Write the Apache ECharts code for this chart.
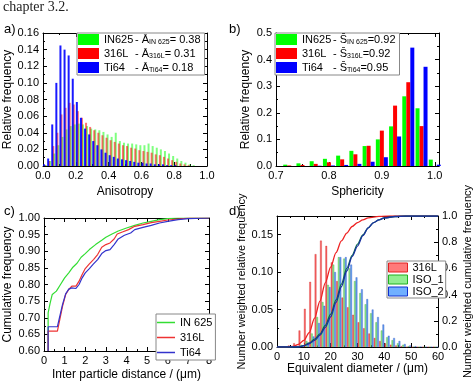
<!DOCTYPE html>
<html><head><meta charset="utf-8">
<script src="https://cdn.jsdelivr.net/npm/echarts@6/dist/echarts.min.js"></script>
<style>html,body{margin:0;padding:0;background:#fff}#c{width:474px;height:384px}</style>
</head><body><div id="c"></div><script>
// ---------- data: panel a (anisotropy) ----------
const aBins = [0.0125,0.0375,0.0625,0.0875,0.1125,0.1375,0.1625,0.1875,0.2125,0.2375,0.2625,0.2875,0.3125,0.3375,0.3625,0.3875,0.4125,0.4375,0.4625,0.4875,0.5125,0.5375,0.5625,0.5875,0.6125,0.6375,0.6625,0.6875,0.7125,0.7375,0.7625,0.7875,0.8125,0.8375,0.8625,0.8875,0.9125,0.9375,0.9625,0.9875];
const aIN625 = [0.001,0.006,0.015,0.025,0.035,0.044,0.048,0.050,0.051,0.050,0.048,0.045,0.044,0.043,0.041,0.038,0.035,0.040,0.030,0.028,0.027,0.027,0.026,0.025,0.025,0.027,0.024,0.022,0.020,0.018,0.015,0.012,0.009,0.006,0.004,0.002,0.001,0,0,0];
const a316L = [0.001,0.006,0.024,0.040,0.062,0.070,0.076,0.074,0.066,0.058,0.052,0.047,0.043,0.040,0.037,0.034,0.031,0.029,0.027,0.025,0.024,0.022,0.021,0.019,0.018,0.017,0.016,0.014,0.013,0.011,0.009,0.007,0.005,0.003,0.002,0.001,0,0,0,0];
const aTi64 = [0.002,0.009,0.050,0.100,0.145,0.140,0.133,0.105,0.077,0.058,0.045,0.038,0.030,0.025,0.020,0.016,0.013,0.011,0.009,0.008,0.007,0.006,0.005,0.004,0.004,0.003,0.003,0.002,0.002,0.002,0.001,0.001,0.001,0,0,0,0,0,0,0];
// ---------- data: panel b (sphericity) ----------
const bBins = [0.725,0.75,0.775,0.8,0.825,0.85,0.875,0.9,0.925,0.95,0.975,1.0];
const bIN625 = [0.005,0.010,0.018,0.027,0.039,0.057,0.075,0.100,0.149,0.262,0.217,0.024];
const b316L = [0.002,0.004,0.008,0.014,0.025,0.044,0.076,0.133,0.227,0.315,0.150,0];
const bTi64 = [0,0,0.001,0.002,0.004,0.008,0.016,0.033,0.111,0.445,0.373,0.005];
// ---------- data: panel c (inter particle distance, cumulative) ----------
const cIN625 = [[0.2,0.6],[0.2,0.715],[0.3,0.745],[0.4,0.77],[0.6,0.78],[0.8,0.80],[1.0,0.82],[1.2,0.835],[1.4,0.852],[1.6,0.864],[1.8,0.882],[2.0,0.893],[2.2,0.905],[2.5,0.92],[2.8,0.933],[3.0,0.942],[3.3,0.952],[3.6,0.961],[4.0,0.97],[4.4,0.978],[4.8,0.985],[5.2,0.99],[5.6,0.995],[6.0,0.998],[6.5,1.0],[8,1.0]];
const c316L = [[0.2,0.6],[0.2,0.66],[0.65,0.66],[0.75,0.69],[0.9,0.735],[1.05,0.77],[1.2,0.785],[1.35,0.795],[1.55,0.795],[1.7,0.81],[1.85,0.83],[2.0,0.848],[2.2,0.862],[2.4,0.875],[2.6,0.89],[2.8,0.912],[3.0,0.92],[3.2,0.925],[3.4,0.937],[3.55,0.952],[3.8,0.958],[4.1,0.965],[4.4,0.975],[4.8,0.98],[5.2,0.986],[5.6,0.99],[6.0,0.994],[6.5,0.997],[7.0,1.0],[8,1.0]];
const cTi64 = [[0.2,0.6],[0.2,0.673],[0.65,0.673],[0.75,0.70],[0.9,0.74],[1.05,0.772],[1.2,0.786],[1.35,0.79],[1.55,0.788],[1.7,0.80],[1.85,0.82],[2.0,0.835],[2.2,0.848],[2.4,0.862],[2.6,0.875],[2.8,0.893],[3.0,0.902],[3.2,0.905],[3.4,0.92],[3.6,0.937],[3.9,0.948],[4.2,0.955],[4.4,0.965],[4.8,0.972],[5.2,0.978],[5.6,0.985],[6.0,0.99],[6.5,0.995],[7.0,0.998],[8,1.0]];
// ---------- data: panel d (equivalent diameter) ----------
const dBins = [1,3,5,7,9,11,13,15,17,19,21,23,25,27,29,31,33,35,37,39,41,43,45,47,49,51,53,55,57,59];
const d316L = [0,0,0.002,0.005,0.022,0.051,0.087,0.124,0.142,0.135,0.113,0.088,0.066,0.053,0.043,0.033,0.025,0.018,0.012,0.008,0.005,0.003,0.002,0.001,0,0,0,0,0,0];
const dISO1 = [0,0,0,0.001,0.003,0.008,0.018,0.040,0.060,0.083,0.110,0.120,0.118,0.105,0.088,0.072,0.057,0.045,0.033,0.022,0.013,0.009,0.005,0.003,0.001,0.0005,0,0,0,0];
const dISO2 = [0,0,0,0.001,0.002,0.006,0.014,0.032,0.055,0.080,0.100,0.120,0.120,0.110,0.093,0.077,0.064,0.050,0.040,0.030,0.015,0.012,0.008,0.004,0.002,0.001,0.0005,0,0,0];
const dCum316L = [[0,0],[4,0],[6,0.005],[8,0.02],[10,0.05],[12,0.11],[14,0.22],[16,0.35],[18,0.49],[20,0.61],[22,0.72],[24,0.81],[26,0.87],[28,0.92],[30,0.95],[32,0.97],[34,0.985],[38,0.997],[42,1.0],[60,1.0]];
const dCumISO1 = [[0,0],[8,0],[10,0.01],[12,0.03],[14,0.06],[16,0.1],[18,0.165],[20,0.25],[22,0.36],[24,0.48],[26,0.6],[28,0.7],[30,0.785],[32,0.855],[34,0.91],[36,0.95],[38,0.97],[40,0.985],[44,0.996],[48,1.0],[60,1.0]];
const dCumISO2 = [[0,0],[8,0],[10,0.01],[12,0.025],[14,0.05],[16,0.09],[18,0.15],[20,0.23],[22,0.34],[24,0.46],[26,0.58],[28,0.69],[30,0.77],[32,0.85],[34,0.91],[36,0.95],[38,0.97],[40,0.985],[44,0.996],[48,1.0],[60,1.0]];

const zip = (xs, ys) => xs.map((x, i) => [x, ys[i]]);
const FF = 'Liberation Sans, Arial, sans-serif';

function ax(o) {
  return Object.assign({
    type: 'value', scale: false,
    axisLine: {show: true, onZero: false, lineStyle: {color: '#000', width: 1}},
    axisTick: {show: true, inside: true, length: 4, lineStyle: {color: '#000'}},
    minorTick: {show: true, splitNumber: 2, length: 2, lineStyle: {color: '#000'}},
    splitLine: {show: false},
    axisLabel: {color: '#000', fontSize: 11, fontFamily: FF, margin: 4},
    nameLocation: 'middle',
    nameTextStyle: {color: '#000', fontSize: 12, fontFamily: FF}
  }, o);
}
function frameAx(o) {
  return ax(Object.assign({axisLabel: {show: false}}, o));
}
function fmtStep(step, dec) {
  return v => (Math.abs(v / step - Math.round(v / step)) > 1e-6) ? '' : v.toFixed(dec);
}
const lbl = extra => Object.assign({color:'#000', fontSize: 11, fontFamily: FF, margin: 4}, extra);

const grids = [
  {left: 43, top: 33, width: 164, height: 133},
  {left: 276, top: 33, width: 163, height: 133},
  {left: 44, top: 218, width: 165, height: 133},
  {left: 277, top: 216, width: 162, height: 131}
];

const xAxis = [
  ax({gridIndex: 0, position: 'bottom', min: 0, max: 1.0, interval: 0.2, axisLabel: lbl({formatter: v => v.toFixed(1)}), name: 'Anisotropy', nameGap: 20}),
  frameAx({gridIndex: 0, position: 'top', min: 0, max: 1.0, interval: 0.2}),
  ax({gridIndex: 1, position: 'bottom', min: 0.7, max: 1.008, interval: 0.1, axisLabel: lbl({formatter: fmtStep(0.1, 1)}), name: 'Sphericity', nameGap: 20}),
  frameAx({gridIndex: 1, position: 'top', min: 0.7, max: 1.008, interval: 0.1}),
  ax({gridIndex: 2, position: 'bottom', min: 0, max: 8, interval: 1, axisLabel: lbl({}), name: 'Inter particle distance / (\u03bcm)', nameGap: 18}),
  frameAx({gridIndex: 2, position: 'top', min: 0, max: 8, interval: 1}),
  ax({gridIndex: 3, position: 'bottom', min: 0, max: 60, interval: 10, axisLabel: lbl({}), name: 'Equivalent diameter / (\u03bcm)', nameGap: 14}),
  frameAx({gridIndex: 3, position: 'top', min: 0, max: 60, interval: 10})
];
const yAxis = [
  ax({gridIndex: 0, position: 'left', min: 0, max: 0.16, interval: 0.02, axisLabel: lbl({formatter: v => v.toFixed(2)}), name: 'Relative frequency', nameGap: 29}),
  frameAx({gridIndex: 0, position: 'right', min: 0, max: 0.16, interval: 0.02}),
  ax({gridIndex: 1, position: 'left', min: 0, max: 0.5, interval: 0.1, axisLabel: lbl({formatter: v => v.toFixed(1)}), name: 'Relative frequency', nameGap: 24}),
  frameAx({gridIndex: 1, position: 'right', min: 0, max: 0.5, interval: 0.1}),
  ax({gridIndex: 2, position: 'left', min: 0.6, max: 1.0, interval: 0.05, axisLabel: lbl({formatter: v => v.toFixed(2)}), name: 'Cumulative frequency', nameGap: 30}),
  frameAx({gridIndex: 2, position: 'right', min: 0.6, max: 1.0, interval: 0.05}),
  ax({gridIndex: 3, position: 'left', min: 0, max: 0.175, interval: 0.05, axisLabel: lbl({formatter: fmtStep(0.05, 2)}), name: 'Number weighted relative frequency', nameGap: 30, nameTextStyle: {color:'#000', fontSize: 11, fontFamily: FF}}),
  ax({gridIndex: 3, position: 'right', min: 0, max: 1.0, interval: 0.2, axisLabel: lbl({formatter: v => v.toFixed(1)}), name: 'Number weighted cumulative frequency', nameGap: 24, nameRotate: 90, nameTextStyle: {color:'#000', fontSize: 11, fontFamily: FF}})
];

const richA = {
  n: {fontSize: 11, fontFamily: FF, width: 31, color: '#000'},
  t: {fontSize: 11, fontFamily: FF, color: '#000'},
  s: {fontSize: 7, fontFamily: FF, color: '#000', padding: [6, 0, 0, 0]}
};
const legA = {'IN625a': ['IN625', '- \u0100', 'IN 625', '= 0.38'], '316La': ['316L', '- \u0100', '316L', '= 0.31'], 'Ti64a': ['Ti64', '- \u0100', 'Ti64', '= 0.18']};
const legB = {'IN625b': ['IN625', '- S\u0304', 'IN 625', '=0.92'], '316Lb': ['316L', '- S\u0304', '316L', '=0.92'], 'Ti64b': ['Ti64', '- S\u0304', 'Ti64', '=0.95']};
const fmtLeg = m => name => { const p = m[name]; return '{n|' + p[0] + '}{t|' + p[1] + '}{s|' + p[2] + '}{t|' + p[3] + '}'; };

const barA = (name, data, color, z) => ({name, type: 'bar', xAxisIndex: 0, yAxisIndex: 0, data, barWidth: 2, barGap: '-50%', itemStyle: {color}, z, animation: false});
const barB = (name, data, color) => ({name, type: 'bar', xAxisIndex: 2, yAxisIndex: 2, data, barWidth: 4, barGap: '0%', itemStyle: {color}, animation: false});
const lineC = (name, data, color) => ({name, type: 'line', xAxisIndex: 4, yAxisIndex: 4, data, showSymbol: false, lineStyle: {color, width: 1.2}, itemStyle: {color}, animation: false});
const barD = (name, data, color, border) => ({name, type: 'bar', xAxisIndex: 6, yAxisIndex: 6, data, barWidth: 1.7, barGap: '0%', itemStyle: {color, borderColor: border, borderWidth: 0.3}, animation: false});
const lineD = (name, data, color) => ({name, type: 'line', xAxisIndex: 6, yAxisIndex: 7, data, smooth: 0.3, smoothMonotone: 'x', showSymbol: false, lineStyle: {color, width: 1.3}, itemStyle: {color}, z: 5, animation: false});

const option = {
  animation: false,
  backgroundColor: '#fff',
  grid: grids.map(g => Object.assign({show: false, containLabel: false}, g)),
  xAxis, yAxis,
  legend: [
    {left: 77, top: 33, orient: 'vertical', selectedMode: false, data: [{name:'IN625a', itemStyle:{color:'#00ff00', opacity:1}}, {name:'316La', itemStyle:{color:'#ff0000', opacity:1}}, {name:'Ti64a', itemStyle:{color:'#0000ff', opacity:1}}],
     icon: 'rect', itemWidth: 21, itemHeight: 11, itemGap: 2, padding: [1, 4, 1, 1], borderColor: '#888', borderWidth: 1, backgroundColor: '#fff',
     formatter: fmtLeg(legA), textStyle: {rich: richA, fontSize: 11, fontFamily: FF}},
    {left: 275, top: 33, orient: 'vertical', selectedMode: false, data: [{name:'IN625b', itemStyle:{color:'#00ff00'}}, {name:'316Lb', itemStyle:{color:'#ff0000'}}, {name:'Ti64b', itemStyle:{color:'#0000ff'}}],
     icon: 'rect', itemWidth: 21, itemHeight: 11, itemGap: 2, padding: [1, 4, 1, 1], borderColor: '#888', borderWidth: 1, backgroundColor: '#fff',
     formatter: fmtLeg(legB), textStyle: {rich: richA, fontSize: 11, fontFamily: FF}},
    {left: 156, top: 314, orient: 'vertical', selectedMode: false, data: ['IN 625', '316L', 'Ti64'],
     icon: 'rect', itemWidth: 18, itemHeight: 1.5, itemGap: 4, padding: [3, 3, 2, 1], borderColor: '#888', borderWidth: 1, backgroundColor: '#fff',
     textStyle: {fontSize: 11, fontFamily: FF, color: '#000', lineHeight: 8}},
    {left: 387, top: 261, orient: 'vertical', selectedMode: false,
     data: [{name:'316L ', itemStyle:{color:'#ff7a7a', borderColor:'#e02020', borderWidth:1}}, {name:'ISO_1', itemStyle:{color:'#90ee90', borderColor:'#20b020', borderWidth:1}}, {name:'ISO_2', itemStyle:{color:'#70b0ff', borderColor:'#1030d0', borderWidth:1}}],
     icon: 'rect', itemWidth: 19, itemHeight: 9, itemGap: 1, itemTextGap: 3, padding: [1, 2, 1, 1], borderColor: '#888', borderWidth: 1, backgroundColor: '#fff',
     formatter: n => n.trim(), textStyle: {fontSize: 11, fontFamily: FF, color: '#000', lineHeight: 10}}
  ],
  series: [
    barA('Ti64a', zip(aBins, aTi64), 'rgba(0,0,255,0.9)', 4),
    barA('316La', zip(aBins, a316L), 'rgba(255,0,0,0.55)', 3),
    barA('IN625a', zip(aBins, aIN625), 'rgba(0,255,0,0.5)', 2),
    barB('IN625b', zip(bBins, bIN625), '#00ff00'),
    barB('316Lb', zip(bBins, b316L), '#ff0000'),
    barB('Ti64b', zip(bBins, bTi64), '#0000ff'),
    lineC('IN 625', cIN625, '#33dd33'),
    lineC('316L', c316L, '#ee3333'),
    lineC('Ti64', cTi64, '#3333cc'),
    barD('316L ', zip(dBins, d316L), 'rgba(245,70,70,0.85)', '#d02020'),
    barD('ISO_1', zip(dBins, dISO1), 'rgba(130,230,130,0.9)', '#30a030'),
    barD('ISO_2', zip(dBins, dISO2), 'rgba(80,150,235,0.9)', '#2040c0'),
    lineD('cum316L', dCum316L, '#ee2222'),
    lineD('cumISO1', dCumISO1, '#0a6a50'),
    lineD('cumISO2', dCumISO2, '#1a2fa0')
  ],
  graphic: [
    {type: 'text', left: 3, top: 0, style: {text: 'chapter 3.2.', font: '14px "Liberation Serif", serif', fill: '#222'}},
    {type: 'text', left: 4, top: 23, style: {text: 'a)', font: '13px "Liberation Sans", Arial', fill: '#000'}},
    {type: 'text', left: 229, top: 23, style: {text: 'b)', font: '13px "Liberation Sans", Arial', fill: '#000'}},
    {type: 'text', left: 4, top: 205, style: {text: 'c)', font: '13px "Liberation Sans", Arial', fill: '#000'}},
    {type: 'text', left: 229, top: 205, style: {text: 'd)', font: '13px "Liberation Sans", Arial', fill: '#000'}}
  ]
};
const chart = echarts.init(document.getElementById('c'), null, {renderer: 'canvas'});
chart.setOption(option);
</script></body></html>
